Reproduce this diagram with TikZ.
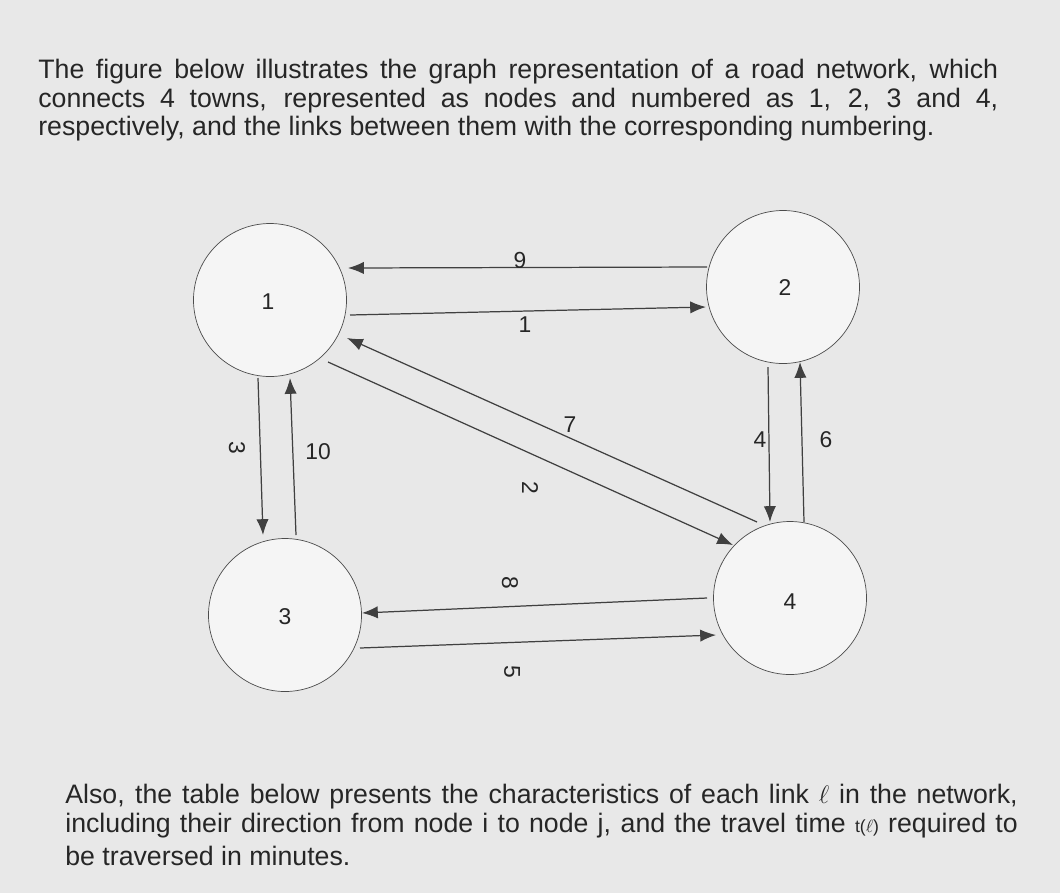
\documentclass[tikz,border=0pt]{standalone}
\usepackage{fontspec}
\setmainfont{Liberation Sans}
\usetikzlibrary{arrows.meta}
\begin{document}
\begin{tikzpicture}[x=0.02cm,y=-0.02cm,
  town/.style={draw=black!70,circle,minimum size=153*0.02cm,inner sep=0pt,fill=white!92!gray},
  link/.style={draw=black!75,line width=0.7pt,-{Latex[length=9pt,width=7pt]}},
  lbl/.style={font=\fontsize{13}{15}\selectfont,text=black!85},
  para/.style={anchor=west,font=\fontsize{15.2}{15.9}\selectfont,text=black!85,inner sep=0pt}]
\fill[black!9] (0,0) rectangle (1060,893);
\node[para] (t1) at (38,72) {\makebox[19.2cm][s]{The figure below illustrates the graph representation of a road network, which}};
\node[para] (t2) at (38,101) {\makebox[19.2cm][s]{connects 4 towns, represented as nodes and numbered as 1, 2, 3 and 4,}};
\node[para] (t3) at (38,129) {respectively, and the links between them with the corresponding numbering.};
\node[town] (n1) at (270,300) {};
\node[town] (n2) at (783,287) {};
\node[town] (n3) at (285,615) {};
\node[town] (n4) at (790,598) {};
\node[lbl] at (268,302) {1};
\node[lbl] at (785,288) {2};
\node[lbl] at (285,617) {3};
\node[lbl] at (790,602) {4};
\coordinate (a9s) at (707,267); \coordinate (a9e) at (348,268);
\coordinate (a1s) at (350,315); \coordinate (a1e) at (706,307);
\coordinate (a2s) at (328,362); \coordinate (a2e) at (733,545);
\coordinate (a7s) at (757,522); \coordinate (a7e) at (347,338);
\coordinate (a3s) at (258,378); \coordinate (a3e) at (263,535);
\coordinate (a10s) at (296,535); \coordinate (a10e) at (290,378);
\coordinate (a4s) at (768,367); \coordinate (a4e) at (770,522);
\coordinate (a6s) at (804,522); \coordinate (a6e) at (800,362);
\coordinate (a8s) at (707,598); \coordinate (a8e) at (362,613);
\coordinate (a5s) at (360,648); \coordinate (a5e) at (716,635);
\foreach \s/\e in {a9s/a9e,a1s/a1e,a2s/a2e,a7s/a7e,a3s/a3e,a10s/a10e,a4s/a4e,a6s/a6e,a8s/a8e,a5s/a5e}
  \draw[link] (\s) -- (\e);
\node[lbl,rotate=180] at (520,260) {6};
\node[lbl] at (525,325) {1};
\node[lbl] at (570,425) {7};
\node[lbl,rotate=-90] at (530,488) {2};
\node[lbl,rotate=-90] at (237,448) {3};
\node[lbl] at (318,452) {10};
\node[lbl] at (760,440) {4};
\node[lbl] at (826,440) {6};
\node[lbl,rotate=-90] at (510,583) {8};
\node[lbl,rotate=-90] at (512,672) {5};
\node[para] (b1) at (65,797) {\makebox[19.05cm][s]{Also, the table below presents the characteristics of each link $\ell$ in the network,}};
\node[para] (b2) at (65,826) {\makebox[19.05cm][s]{including their direction from node i to node j, and the travel time {\fontsize{10}{10}\selectfont t($\ell$)} required to}};
\node[para] (b3) at (65,856) {be traversed in minutes.};
\end{tikzpicture}
\end{document}
